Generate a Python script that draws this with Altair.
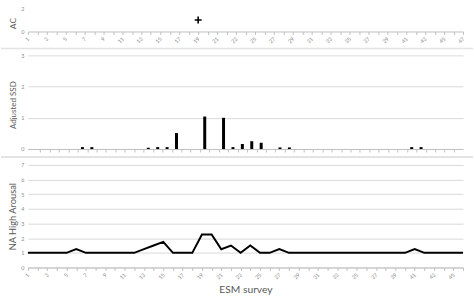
import altair as alt
import pandas as pd

# ---- data ----
survey = list(range(1, 47))
na_high_arousal = [1, 1, 1, 1, 1, 1.25, 1, 1, 1, 1, 1, 1, 1.25, 1.5, 1.75, 1, 1, 1,
                   2.25, 2.25, 1.25, 1.5, 1, 1.5, 1, 1, 1.25,
                   1, 1, 1, 1, 1, 1, 1, 1, 1, 1, 1, 1, 1,
                   1.25, 1, 1, 1, 1, 1]
ac_survey = [19]
ac_values = [1]
ssd_survey = [6, 7, 13, 14, 15, 16, 19, 21, 22, 23, 24, 25, 27, 28, 41, 42]
ssd_values = [0.06, 0.06, 0.04, 0.06, 0.06, 0.51, 1.04, 1.0, 0.06, 0.16, 0.25, 0.2,
              0.05, 0.05, 0.06, 0.06]
top_ticks = list(range(1, 48))
bottom_ticks = list(range(1, 47))
mid_ticks = [k + 0.5 for k in range(1, 46)]

na_df = pd.DataFrame({"survey": survey, "value": na_high_arousal})
ac_df = pd.DataFrame({"survey": ac_survey, "value": ac_values})
ssd_df = pd.DataFrame({"survey": ssd_survey, "value": ssd_values})
one_df = pd.DataFrame({"s": [0]})

FONT = "Lato"
GRID = "#d9d9d9"
AXC = "#bfbfbf"
LABEL = "#8c8c8c"
TITLE = "#595959"
W = 437


def x_axis(values, labels=True, title=None):
    kw = dict(values=values, grid=False, domainColor=AXC, tickColor=AXC, tickSize=3,
              labels=labels, title=title)
    if labels:
        kw.update(labelExpr="datum.value % 2 == 1 ? datum.label : ''", labelAngle=315,
                  labelAlign="right", labelBaseline="middle", labelFontSize=5.5,
                  labelColor=LABEL, labelPadding=3)
    if title:
        kw.update(titleFontSize=10.3, titleColor=TITLE, titleFontWeight="normal",
                  titleBaseline="alphabetic", titleY=25)
    return alt.Axis(**kw)


def y_axis(values, grid=True):
    return alt.Axis(values=values, grid=grid, gridColor=GRID, domain=False, ticks=False,
                    format="d", labelFontSize=5.5, labelColor=LABEL, labelPadding=4,
                    title=None)


def y_title(text, size, ypos):
    return alt.Chart(one_df).mark_text(
        text=text, angle=270, align="center", baseline="bottom", fontSize=size,
        font=FONT, color=TITLE
    ).encode(x=alt.value(-10), y=alt.value(ypos))


top_pts = alt.Chart(ac_df).mark_point(
    shape="M-1,0H1M0,-1V1", size=49, strokeWidth=1.6, color="black", filled=False, opacity=1
).encode(
    x=alt.X("survey:Q", scale=alt.Scale(domain=[1, 47], nice=False, zero=False),
            axis=x_axis(top_ticks)),
    y=alt.Y("value:Q", scale=alt.Scale(domain=[0, 2], nice=False),
            axis=y_axis([0, 1, 2], grid=False)),
)
top = alt.layer(top_pts, y_title("AC", 8.5, 15)).properties(width=W, height=23)

mid_bars = alt.Chart(ssd_df).mark_bar(size=3, color="black").encode(
    x=alt.X("survey:Q", scale=alt.Scale(domain=[0.73, 45.93], nice=False, zero=False),
            axis=x_axis(mid_ticks, labels=False)),
    y=alt.Y("value:Q", scale=alt.Scale(domain=[0, 3.256], nice=False),
            axis=y_axis([0, 1, 2, 3])),
)
sep1 = alt.Chart(one_df).mark_rule(color="#e3e3e3", strokeWidth=1.5).encode(
    x=alt.value(-27), x2=alt.value(447), y=alt.value(1))
sep2 = alt.Chart(one_df).mark_rule(color="#e3e3e3", strokeWidth=2).encode(
    x=alt.value(-27), x2=alt.value(447), y=alt.value(110))
mid = alt.layer(mid_bars, sep1, sep2, y_title("Adjusted SSD", 8, 58)).properties(
    width=W, height=102)

bot_line = alt.Chart(na_df).mark_line(color="black", strokeWidth=2).encode(
    x=alt.X("survey:Q", scale=alt.Scale(domain=[1, 46], nice=False, zero=False),
            axis=x_axis(bottom_ticks, title="ESM survey")),
    y=alt.Y("value:Q", scale=alt.Scale(domain=[0, 7], nice=False),
            axis=y_axis(list(range(0, 8)))),
)
bot = alt.layer(bot_line, y_title("NA High Arousal", 9.3, 52)).properties(
    width=W, height=103)

chart = alt.vconcat(top, mid, bot, spacing=16, bounds="flush").properties(
    padding={"left": 0, "right": 0, "top": 6, "bottom": 0}
).configure_view(stroke=None).configure_axis(labelFont=FONT, titleFont=FONT)

chart.save("out.html", embed_options={"renderer": "svg", "actions": False})
